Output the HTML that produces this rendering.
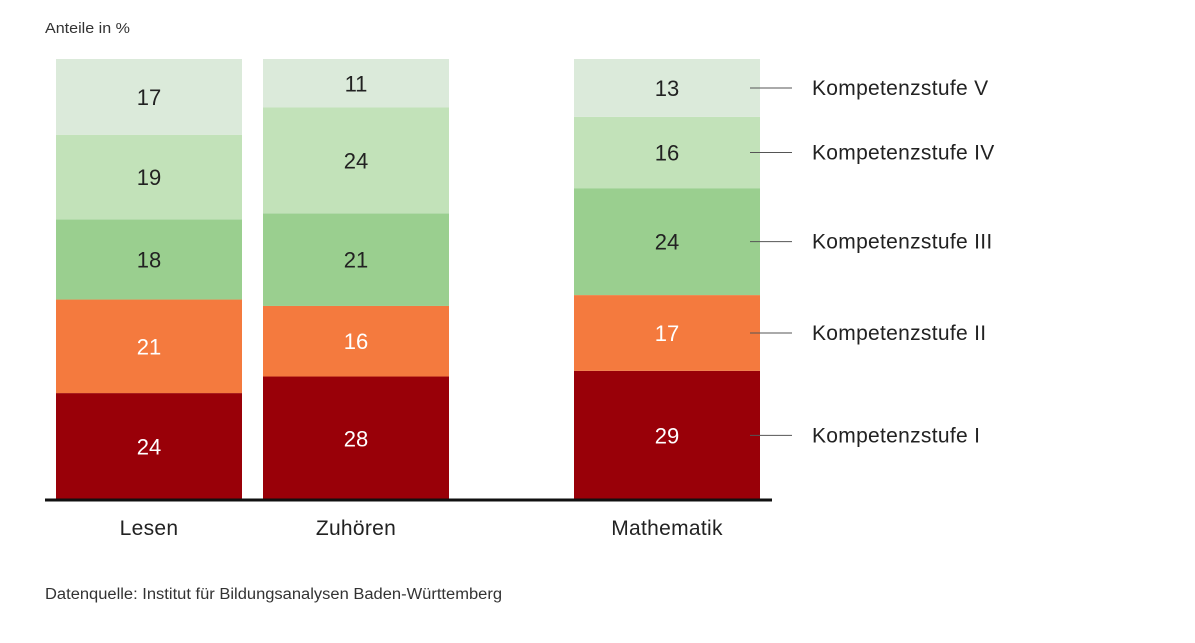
<!DOCTYPE html>
<html><head><meta charset="utf-8"><style>
body{margin:0;background:#fff;}
svg text{font-family:"Liberation Sans",Arial,sans-serif;}
</style></head><body>
<svg id="chart" width="1195" height="638" xmlns="http://www.w3.org/2000/svg">
<text x="45" y="33" font-size="15" fill="#333" textLength="85" lengthAdjust="spacingAndGlyphs">Anteile in %</text>
<text x="45" y="599" font-size="15.5" fill="#333" textLength="457" lengthAdjust="spacingAndGlyphs">Datenquelle: Institut für Bildungsanalysen Baden-Württemberg</text>
<g id="bars"></g>
<line x1="45" y1="500" x2="772" y2="500" stroke="#111" stroke-width="3"/>
</svg>
<script>
const categories = ["Lesen", "Zuhören", "Mathematik"];
const levels = ["Kompetenzstufe I", "Kompetenzstufe II", "Kompetenzstufe III", "Kompetenzstufe IV", "Kompetenzstufe V"];
const stufe1 = [24, 28, 29];
const stufe2 = [21, 16, 17];
const stufe3 = [18, 21, 24];
const stufe4 = [19, 24, 16];
const stufe5 = [17, 11, 13];

const series = [stufe1, stufe2, stufe3, stufe4, stufe5];
const colors = ["#990008", "#f47a3e", "#9acf8f", "#c2e2b9", "#dbeada"];
const textColors = ["#fff", "#fff", "#222", "#222", "#222"];
const barX = [56, 263, 574];
const barW = 186;
const baseY = 500, topY = 59;
const NS = "http://www.w3.org/2000/svg";
const g = document.getElementById("bars");
function yScale(v, total){ return (baseY - topY) * v / total; }

categories.forEach((cat, ci) => {
  const total = series.reduce((s, arr) => s + arr[ci], 0);
  let y = baseY;
  series.forEach((arr, si) => {
    const h = yScale(arr[ci], total);
    y -= h;
    const r = document.createElementNS(NS, "rect");
    r.setAttribute("x", barX[ci]); r.setAttribute("y", y);
    r.setAttribute("width", barW); r.setAttribute("height", h);
    r.setAttribute("fill", colors[si]);
    
    
    g.appendChild(r);
    const t = document.createElementNS(NS, "text");
    t.setAttribute("x", barX[ci] + barW / 2); t.setAttribute("y", y + h / 2 + 8);
    t.setAttribute("text-anchor", "middle"); t.setAttribute("font-size", "22");
    t.setAttribute("fill", textColors[si]);
    t.textContent = arr[ci];
    
    
    g.appendChild(t);
    if (ci === categories.length - 1) {
      const cy = y + h / 2;
      const l = document.createElementNS(NS, "line");
      l.setAttribute("x1", 750); l.setAttribute("x2", 792);
      l.setAttribute("y1", cy); l.setAttribute("y2", cy);
      l.setAttribute("stroke", "#555"); l.setAttribute("stroke-width", "1");
      
      
      g.appendChild(l);
      const lt = document.createElementNS(NS, "text");
      lt.setAttribute("x", 812); lt.setAttribute("y", cy + 7);
      lt.setAttribute("font-size", "21"); lt.setAttribute("fill", "#222");
      lt.setAttribute("letter-spacing", "0.3");
      lt.textContent = levels[si];
      
      
      g.appendChild(lt);
    }
  });
  const c = document.createElementNS(NS, "text");
  c.setAttribute("x", barX[ci] + barW / 2); c.setAttribute("y", 535);
  c.setAttribute("text-anchor", "middle"); c.setAttribute("font-size", "21");
  c.setAttribute("fill", "#222");
  c.setAttribute("letter-spacing", "0.3");
  c.textContent = cat;
  
  
  g.appendChild(c);
});
</script>
</body></html>
